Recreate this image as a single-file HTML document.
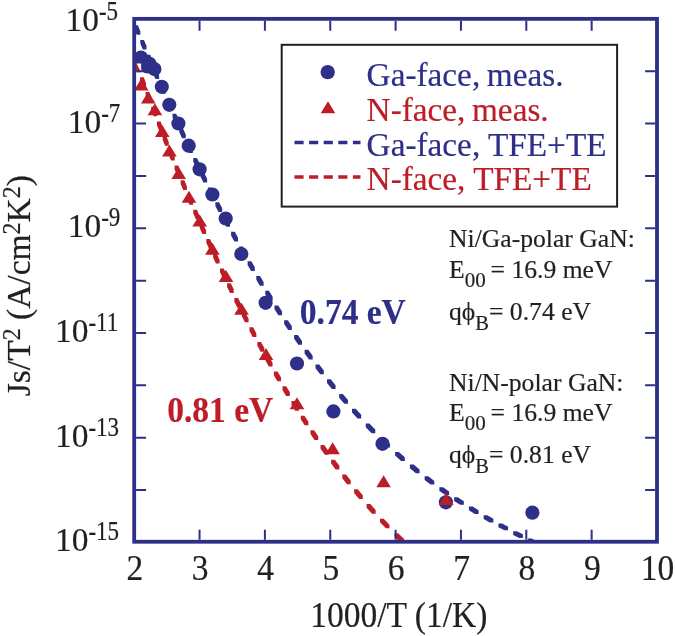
<!DOCTYPE html>
<html><head><meta charset="utf-8"><style>
html,body{margin:0;padding:0;background:#fff;}
body{width:675px;height:636px;overflow:hidden;}
svg{display:block;will-change:transform;}
</style></head><body>
<svg width="675" height="636" viewBox="0 0 675 636">
<defs><clipPath id="c"><rect x="134.2" y="18.85" width="522.8" height="522.9"/></clipPath></defs>
<g clip-path="url(#c)">
<path fill="#bc1d27" d="M118.92,18.39 122.62,18.39 124.72,24.39 124.72,28.09 121.02,28.09 118.92,22.09ZM124.10,33.11 127.80,33.11 129.93,39.11 129.93,42.81 126.23,42.81 124.10,36.81ZM129.36,47.82 133.06,47.82 135.22,53.82 135.22,57.52 131.52,57.52 129.36,51.52ZM134.69,62.53 138.39,62.53 140.59,68.53 140.59,72.23 136.89,72.23 134.69,66.23ZM140.11,77.25 143.81,77.25 146.04,83.25 146.04,86.95 142.34,86.95 140.11,80.95ZM145.61,91.96 149.31,91.96 151.58,97.96 151.58,101.66 147.88,101.66 145.61,95.66ZM151.21,106.67 154.91,106.67 157.21,112.67 157.21,116.37 153.51,116.37 151.21,110.37ZM156.89,121.39 160.59,121.39 162.94,127.39 162.94,131.09 159.24,131.09 156.89,125.09ZM162.68,136.10 166.38,136.10 168.76,142.10 168.76,145.80 165.06,145.80 162.68,139.80ZM168.56,150.81 172.26,150.81 174.69,156.81 174.69,160.51 170.99,160.51 168.56,154.51ZM174.55,165.53 178.25,165.53 180.73,171.53 180.73,175.23 177.03,175.23 174.55,169.23ZM180.66,180.24 184.36,180.24 186.88,186.24 186.88,189.94 183.18,189.94 180.66,183.94ZM186.88,194.95 190.58,194.95 193.15,200.95 193.15,204.65 189.45,204.65 186.88,198.65ZM193.23,209.66 196.93,209.66 199.55,215.66 199.55,219.36 195.85,219.36 193.23,213.36ZM199.71,224.38 203.41,224.38 206.09,230.38 206.09,234.08 202.39,234.08 199.71,228.08ZM206.32,239.09 210.02,239.09 212.76,245.09 212.76,248.79 209.06,248.79 206.32,242.79ZM213.09,253.80 216.79,253.80 219.59,259.80 219.59,263.50 215.89,263.50 213.09,257.50ZM220.01,268.52 223.71,268.52 226.58,274.52 226.58,278.22 222.88,278.22 220.01,272.22ZM227.09,283.23 230.79,283.23 233.73,289.23 233.73,292.93 230.03,292.93 227.09,286.93ZM234.36,297.94 238.06,297.94 241.07,303.94 241.07,307.64 237.37,307.64 234.36,301.64ZM241.81,312.66 245.51,312.66 248.61,318.66 248.61,322.36 244.91,322.36 241.81,316.36ZM249.47,327.37 253.17,327.37 256.35,333.37 256.35,337.07 252.65,337.07 249.47,331.07ZM257.35,342.08 261.05,342.08 264.33,348.08 264.33,351.78 260.63,351.78 257.35,345.78ZM265.46,356.80 269.16,356.80 272.55,362.80 272.55,366.50 268.85,366.50 265.46,360.50ZM273.84,371.51 277.54,371.51 281.03,377.51 281.03,381.21 277.33,381.21 273.84,375.21ZM282.49,386.22 286.19,386.22 289.81,392.22 289.81,395.92 286.11,395.92 282.49,389.92ZM291.46,400.94 295.16,400.94 298.91,406.94 298.91,410.64 295.21,410.64 291.46,404.64ZM300.77,415.65 304.47,415.65 308.37,421.65 308.37,425.35 304.67,425.35 300.77,419.35ZM310.45,430.36 314.15,430.36 318.22,436.36 318.22,440.06 314.52,440.06 310.45,434.06ZM320.57,445.08 324.27,445.08 328.52,451.08 328.52,454.78 324.82,454.78 320.57,448.78ZM331.16,459.79 334.86,459.79 339.33,465.79 339.33,469.49 335.63,469.49 331.16,463.49ZM342.30,474.50 346.00,474.50 350.72,480.50 350.72,484.20 347.02,484.20 342.30,478.20ZM354.08,489.22 357.78,489.22 362.78,495.22 362.78,498.92 359.08,498.92 354.08,492.92ZM366.60,503.93 370.30,503.93 375.65,509.93 375.65,513.63 371.95,513.63 366.60,507.63ZM380.01,518.64 383.71,518.64 389.48,524.64 389.48,528.34 385.78,528.34 380.01,522.34ZM394.45,533.29 398.15,533.29 404.15,539.02 404.15,542.72 400.45,542.72 394.45,536.99Z"/>
<path fill="#2d2f88" d="M128.10,10.37 131.80,10.37 134.25,16.37 134.25,20.07 130.55,20.07 128.10,14.07ZM134.15,25.13 137.85,25.13 140.34,31.13 140.34,34.83 136.64,34.83 134.15,28.83ZM140.29,39.88 143.99,39.88 146.51,45.88 146.51,49.58 142.81,49.58 140.29,43.58ZM146.52,54.64 150.22,54.64 152.79,60.64 152.79,64.34 149.09,64.34 146.52,58.34ZM152.85,69.40 156.55,69.40 159.16,75.40 159.16,79.10 155.46,79.10 152.85,73.10ZM159.29,84.16 162.99,84.16 165.63,90.16 165.63,93.86 161.93,93.86 159.29,87.86ZM165.83,98.91 169.53,98.91 172.22,104.91 172.22,108.61 168.52,108.61 165.83,102.61ZM172.49,113.67 176.19,113.67 178.93,119.67 178.93,123.37 175.23,123.37 172.49,117.37ZM179.27,128.43 182.97,128.43 185.77,134.43 185.77,138.13 182.07,138.13 179.27,132.13ZM186.19,143.18 189.89,143.18 192.74,149.18 192.74,152.88 189.04,152.88 186.19,146.88ZM193.25,157.94 196.95,157.94 199.86,163.94 199.86,167.64 196.16,167.64 193.25,161.64ZM200.46,172.70 204.16,172.70 207.14,178.70 207.14,182.40 203.44,182.40 200.46,176.40ZM207.83,187.46 211.53,187.46 214.58,193.46 214.58,197.16 210.88,197.16 207.83,191.16ZM215.38,202.21 219.08,202.21 222.20,208.21 222.20,211.91 218.50,211.91 215.38,205.91ZM223.12,216.97 226.82,216.97 230.02,222.97 230.02,226.67 226.32,226.67 223.12,220.67ZM231.06,231.73 234.76,231.73 238.05,237.73 238.05,241.43 234.35,241.43 231.06,235.43ZM239.22,246.49 242.92,246.49 246.31,252.49 246.31,256.19 242.61,256.19 239.22,250.19ZM247.62,261.24 251.32,261.24 254.81,267.24 254.81,270.94 251.11,270.94 247.62,264.94ZM256.29,276.00 259.99,276.00 263.59,282.00 263.59,285.70 259.89,285.70 256.29,279.70ZM265.24,290.76 268.94,290.76 272.67,296.76 272.67,300.46 268.97,300.46 265.24,294.46ZM274.51,305.51 278.21,305.51 282.08,311.51 282.08,315.21 278.38,315.21 274.51,309.21ZM284.13,320.27 287.83,320.27 291.85,326.27 291.85,329.97 288.15,329.97 284.13,323.97ZM294.14,335.03 297.84,335.03 302.03,341.03 302.03,344.73 298.33,344.73 294.14,338.73ZM304.59,349.79 308.29,349.79 312.67,355.79 312.67,359.49 308.97,359.49 304.59,353.49ZM315.52,364.54 319.22,364.54 323.83,370.54 323.83,374.24 320.13,374.24 315.52,368.24ZM327.02,379.30 330.72,379.30 335.57,385.30 335.57,389.00 331.87,389.00 327.02,383.00ZM339.15,394.06 342.85,394.06 347.99,400.06 347.99,403.76 344.29,403.76 339.15,397.76ZM352.02,408.82 355.72,408.82 361.19,414.82 361.19,418.52 357.49,418.52 352.02,412.52ZM365.74,423.57 369.44,423.57 375.30,429.57 375.30,433.27 371.60,433.27 365.74,427.27ZM380.35,438.21 384.05,438.21 390.05,443.91 390.05,447.61 386.35,447.61 380.35,441.91ZM395.11,451.92 398.81,451.92 404.81,457.20 404.81,460.90 401.11,460.90 395.11,455.62ZM409.87,464.62 413.57,464.62 419.57,469.50 419.57,473.20 415.87,473.20 409.87,468.32ZM424.63,476.36 428.33,476.36 434.33,480.88 434.33,484.58 430.63,484.58 424.63,480.06ZM439.38,487.23 443.08,487.23 449.08,491.41 449.08,495.11 445.38,495.11 439.38,490.93ZM454.14,497.28 457.84,497.28 463.84,501.16 463.84,504.86 460.14,504.86 454.14,500.98ZM468.90,506.62 472.60,506.62 478.60,510.23 478.60,513.93 474.90,513.93 468.90,510.32ZM483.65,515.32 487.35,515.32 493.35,518.69 493.35,522.39 489.65,522.39 483.65,519.02ZM498.41,523.47 502.11,523.47 508.11,526.66 508.11,530.36 504.41,530.36 498.41,527.17ZM513.17,531.18 516.87,531.18 522.87,534.21 522.87,537.91 519.17,537.91 513.17,534.88ZM527.93,538.55 531.63,538.55 537.63,541.48 537.63,545.18 533.93,545.18 527.93,542.25Z"/>
<circle cx="141" cy="57.6" r="7.1" fill="#2d2f88"/>
<circle cx="149.5" cy="63.8" r="7.1" fill="#2d2f88"/>
<circle cx="147.5" cy="66.5" r="7.1" fill="#2d2f88"/>
<circle cx="154.4" cy="69.1" r="7.1" fill="#2d2f88"/>
<circle cx="161.8" cy="86.8" r="7.1" fill="#2d2f88"/>
<circle cx="169.3" cy="104.8" r="7.1" fill="#2d2f88"/>
<circle cx="178.4" cy="123.5" r="7.1" fill="#2d2f88"/>
<circle cx="188.7" cy="145.7" r="7.1" fill="#2d2f88"/>
<circle cx="199.6" cy="169.3" r="7.1" fill="#2d2f88"/>
<circle cx="212.4" cy="194.5" r="7.1" fill="#2d2f88"/>
<circle cx="225.7" cy="218.5" r="7.1" fill="#2d2f88"/>
<circle cx="241.3" cy="254" r="7.1" fill="#2d2f88"/>
<circle cx="265.6" cy="302.8" r="7.1" fill="#2d2f88"/>
<circle cx="297" cy="363.5" r="7.1" fill="#2d2f88"/>
<circle cx="333.4" cy="411.4" r="7.1" fill="#2d2f88"/>
<circle cx="382.5" cy="443.8" r="7.1" fill="#2d2f88"/>
<circle cx="445.9" cy="502.3" r="7.1" fill="#2d2f88"/>
<circle cx="532.4" cy="512.7" r="7.1" fill="#2d2f88"/>
<path d="M134.00,90.40 L148.60,90.40 L141.30,78.40 Z" fill="#bc1d27"/>
<path d="M141.00,103.40 L155.60,103.40 L148.30,91.40 Z" fill="#bc1d27"/>
<path d="M147.60,115.30 L162.20,115.30 L154.90,103.30 Z" fill="#bc1d27"/>
<path d="M155.00,136.90 L169.60,136.90 L162.30,124.90 Z" fill="#bc1d27"/>
<path d="M162.10,156.60 L176.70,156.60 L169.40,144.60 Z" fill="#bc1d27"/>
<path d="M171.40,179.00 L186.00,179.00 L178.70,167.00 Z" fill="#bc1d27"/>
<path d="M181.70,202.80 L196.30,202.80 L189.00,190.80 Z" fill="#bc1d27"/>
<path d="M192.40,226.40 L207.00,226.40 L199.70,214.40 Z" fill="#bc1d27"/>
<path d="M205.10,254.70 L219.70,254.70 L212.40,242.70 Z" fill="#bc1d27"/>
<path d="M218.70,282.00 L233.30,282.00 L226.00,270.00 Z" fill="#bc1d27"/>
<path d="M234.20,314.70 L248.80,314.70 L241.50,302.70 Z" fill="#bc1d27"/>
<path d="M258.70,360.00 L273.30,360.00 L266.00,348.00 Z" fill="#bc1d27"/>
<path d="M289.70,409.20 L304.30,409.20 L297.00,397.20 Z" fill="#bc1d27"/>
<path d="M325.30,454.20 L339.90,454.20 L332.60,442.20 Z" fill="#bc1d27"/>
<path d="M376.30,487.20 L390.90,487.20 L383.60,475.20 Z" fill="#bc1d27"/>
<path d="M438.90,505.10 L453.50,505.10 L446.20,493.10 Z" fill="#bc1d27"/>
<path d="M125.00,70.60 L139.60,70.60 L132.30,58.60 Z" fill="#bc1d27"/>
<path fill="#fff" d="M136.6,63.5 L141.1,63.5 L141.1,70.4 L140.1,70.4 Z"/>
</g>
<path d="M199.55,539.85 V529.85 M199.55,20.75 V30.75 M264.90,539.85 V529.85 M264.90,20.75 V30.75 M330.25,539.85 V529.85 M330.25,20.75 V30.75 M395.60,539.85 V529.85 M395.60,20.75 V30.75 M460.95,539.85 V529.85 M460.95,20.75 V30.75 M526.30,539.85 V529.85 M526.30,20.75 V30.75 M591.65,539.85 V529.85 M591.65,20.75 V30.75 M136.10,71.21 H146.10 M655.10,71.21 H645.10 M136.10,123.57 H146.10 M655.10,123.57 H645.10 M136.10,175.93 H146.10 M655.10,175.93 H645.10 M136.10,228.29 H146.10 M655.10,228.29 H645.10 M136.10,280.65 H146.10 M655.10,280.65 H645.10 M136.10,333.01 H146.10 M655.10,333.01 H645.10 M136.10,385.37 H146.10 M655.10,385.37 H645.10 M136.10,437.73 H146.10 M655.10,437.73 H645.10 M136.10,490.09 H146.10 M655.10,490.09 H645.10" stroke="#2d2f88" stroke-width="2" fill="none"/>
<rect x="134.2" y="18.85" width="522.80" height="522.90" fill="none" stroke="#2d2f88" stroke-width="3.8"/>
<text transform="translate(134.80,579.50) scale(1,1.06)" font-size="33.5" fill="#231f20" stroke="#231f20" stroke-width="0.2" text-anchor="middle" font-family="Liberation Serif, serif">2</text>
<text transform="translate(200.15,579.50) scale(1,1.06)" font-size="33.5" fill="#231f20" stroke="#231f20" stroke-width="0.2" text-anchor="middle" font-family="Liberation Serif, serif">3</text>
<text transform="translate(265.50,579.50) scale(1,1.06)" font-size="33.5" fill="#231f20" stroke="#231f20" stroke-width="0.2" text-anchor="middle" font-family="Liberation Serif, serif">4</text>
<text transform="translate(330.85,579.50) scale(1,1.06)" font-size="33.5" fill="#231f20" stroke="#231f20" stroke-width="0.2" text-anchor="middle" font-family="Liberation Serif, serif">5</text>
<text transform="translate(396.20,579.50) scale(1,1.06)" font-size="33.5" fill="#231f20" stroke="#231f20" stroke-width="0.2" text-anchor="middle" font-family="Liberation Serif, serif">6</text>
<text transform="translate(461.55,579.50) scale(1,1.06)" font-size="33.5" fill="#231f20" stroke="#231f20" stroke-width="0.2" text-anchor="middle" font-family="Liberation Serif, serif">7</text>
<text transform="translate(526.90,579.50) scale(1,1.06)" font-size="33.5" fill="#231f20" stroke="#231f20" stroke-width="0.2" text-anchor="middle" font-family="Liberation Serif, serif">8</text>
<text transform="translate(592.25,579.50) scale(1,1.06)" font-size="33.5" fill="#231f20" stroke="#231f20" stroke-width="0.2" text-anchor="middle" font-family="Liberation Serif, serif">9</text>
<text transform="translate(657.60,579.50) scale(1,1.06)" font-size="33.5" fill="#231f20" stroke="#231f20" stroke-width="0.2" text-anchor="middle" font-family="Liberation Serif, serif">10</text>
<text transform="translate(65.40,31.10) scale(1,1.035)" font-size="33.5" fill="#231f20" stroke="#231f20" stroke-width="0.2" font-family="Liberation Serif, serif">10</text>
<text transform="translate(98.90,19.90) scale(1,1.2)" font-size="23" fill="#231f20" stroke="#231f20" stroke-width="0.2" font-family="Liberation Serif, serif">-5</text>
<text transform="translate(67.70,132.80) scale(1,1.035)" font-size="33.5" fill="#231f20" stroke="#231f20" stroke-width="0.2" font-family="Liberation Serif, serif">10</text>
<text transform="translate(101.20,121.60) scale(1,1.2)" font-size="23" fill="#231f20" stroke="#231f20" stroke-width="0.2" font-family="Liberation Serif, serif">-7</text>
<text transform="translate(67.70,237.20) scale(1,1.035)" font-size="33.5" fill="#231f20" stroke="#231f20" stroke-width="0.2" font-family="Liberation Serif, serif">10</text>
<text transform="translate(101.20,226.00) scale(1,1.2)" font-size="23" fill="#231f20" stroke="#231f20" stroke-width="0.2" font-family="Liberation Serif, serif">-9</text>
<text transform="translate(54.90,342.20) scale(1,1.035)" font-size="33.5" fill="#231f20" stroke="#231f20" stroke-width="0.2" font-family="Liberation Serif, serif">10</text>
<text transform="translate(88.40,331.00) scale(1,1.2)" font-size="23" fill="#231f20" stroke="#231f20" stroke-width="0.2" font-family="Liberation Serif, serif">-11</text>
<text transform="translate(54.90,447.00) scale(1,1.035)" font-size="33.5" fill="#231f20" stroke="#231f20" stroke-width="0.2" font-family="Liberation Serif, serif">10</text>
<text transform="translate(88.40,435.80) scale(1,1.2)" font-size="23" fill="#231f20" stroke="#231f20" stroke-width="0.2" font-family="Liberation Serif, serif">-13</text>
<text transform="translate(54.90,550.80) scale(1,1.035)" font-size="33.5" fill="#231f20" stroke="#231f20" stroke-width="0.2" font-family="Liberation Serif, serif">10</text>
<text transform="translate(88.40,539.60) scale(1,1.2)" font-size="23" fill="#231f20" stroke="#231f20" stroke-width="0.2" font-family="Liberation Serif, serif">-15</text>
<text transform="translate(310.30,627.00) scale(1,1.05)" font-size="33.5" fill="#231f20" stroke="#231f20" stroke-width="0.2" font-family="Liberation Serif, serif">1000/T (1/K)</text>
<text transform="translate(30,396.2) rotate(-90) scale(1,1.035)" font-size="33.5" fill="#231f20" stroke="#231f20" stroke-width="0.2" font-family="Liberation Serif, serif">Js/T<tspan font-size="24" dy="-10">2</tspan><tspan dy="10"> (A/cm</tspan><tspan font-size="24" dy="-10">2</tspan><tspan dy="10">K</tspan><tspan font-size="24" dy="-10">2</tspan><tspan dy="10">)</tspan></text>
<rect x="281.7" y="44.8" width="335.4" height="161.8" fill="#fff" stroke="#231f20" stroke-width="2"/>
<circle cx="327.7" cy="72.1" r="7.2" fill="#2d2f88"/>
<path d="M320.70,113.30 L335.30,113.30 L328.00,101.30 Z" fill="#bc1d27"/>
<path fill="#2d2f88" d="M294.50,140.65h9.1v3.5h-9.1zM309.10,140.65h9.1v3.5h-9.1zM323.70,140.65h9.1v3.5h-9.1zM338.30,140.65h9.1v3.5h-9.1zM352.90,140.65h7.6v3.5h-7.6z"/>
<path fill="#bc1d27" d="M294.50,175.35h9.1v3.5h-9.1zM309.10,175.35h9.1v3.5h-9.1zM323.70,175.35h9.1v3.5h-9.1zM338.30,175.35h9.1v3.5h-9.1zM352.90,175.35h7.6v3.5h-7.6z"/>
<text transform="translate(366.60,86.00) scale(1,1.025)" font-size="33.3" fill="#2d2f88" stroke="#2d2f88" stroke-width="0.2" font-family="Liberation Serif, serif">Ga-face, <tspan dx="-1.8">meas.</tspan></text>
<text transform="translate(366.60,120.50) scale(1,1.025)" font-size="33.3" fill="#bc1d27" stroke="#bc1d27" stroke-width="0.2" font-family="Liberation Serif, serif">N-face, <tspan dx="-1.8">meas.</tspan></text>
<text transform="translate(366.60,155.50) scale(1,1.025)" font-size="33.3" fill="#2d2f88" stroke="#2d2f88" stroke-width="0.2" font-family="Liberation Serif, serif">Ga-face, TFE+TE</text>
<text transform="translate(366.60,190.00) scale(1,1.025)" font-size="33.3" fill="#bc1d27" stroke="#bc1d27" stroke-width="0.2" font-family="Liberation Serif, serif">N-face, TFE+TE</text>
<text transform="translate(449.00,247.40) scale(1.026,1)" font-size="25" fill="#231f20" stroke="#231f20" stroke-width="0.2" font-family="Liberation Serif, serif">Ni/Ga-polar GaN:</text>
<text transform="translate(449,278.0) scale(1.026,1)" font-size="25" fill="#231f20" stroke="#231f20" stroke-width="0.2" font-family="Liberation Serif, serif">E<tspan font-size="20.5" dy="9">00</tspan><tspan dy="-9" dx="-1.5"> = 16.9 meV</tspan></text>
<text transform="translate(449,320.0) scale(1.026,1)" font-size="25" fill="#231f20" stroke="#231f20" stroke-width="0.2" font-family="Liberation Serif, serif">qϕ<tspan font-size="20" dy="9.5">B</tspan><tspan dy="-9.5">= 0.74 eV</tspan></text>
<text transform="translate(449.00,390.80) scale(1.026,1)" font-size="25" fill="#231f20" stroke="#231f20" stroke-width="0.2" font-family="Liberation Serif, serif">Ni/N-polar GaN:</text>
<text transform="translate(449,421.4) scale(1.026,1)" font-size="25" fill="#231f20" stroke="#231f20" stroke-width="0.2" font-family="Liberation Serif, serif">E<tspan font-size="20.5" dy="9">00</tspan><tspan dy="-9" dx="-1.5"> = 16.9 meV</tspan></text>
<text transform="translate(449,463.4) scale(1.026,1)" font-size="25" fill="#231f20" stroke="#231f20" stroke-width="0.2" font-family="Liberation Serif, serif">qϕ<tspan font-size="20" dy="9.5">B</tspan><tspan dy="-9.5">= 0.81 eV</tspan></text>
<text transform="translate(299.80,324.30) scale(1,1.05)" font-size="33.5" fill="#2d2f88" stroke="#2d2f88" stroke-width="0.2" font-weight="bold" font-family="Liberation Serif, serif">0.74 eV</text>
<text transform="translate(167.20,421.70) scale(1,1.05)" font-size="33.5" fill="#bc1d27" stroke="#bc1d27" stroke-width="0.2" font-weight="bold" font-family="Liberation Serif, serif">0.81 eV</text>
</svg>
</body></html>
